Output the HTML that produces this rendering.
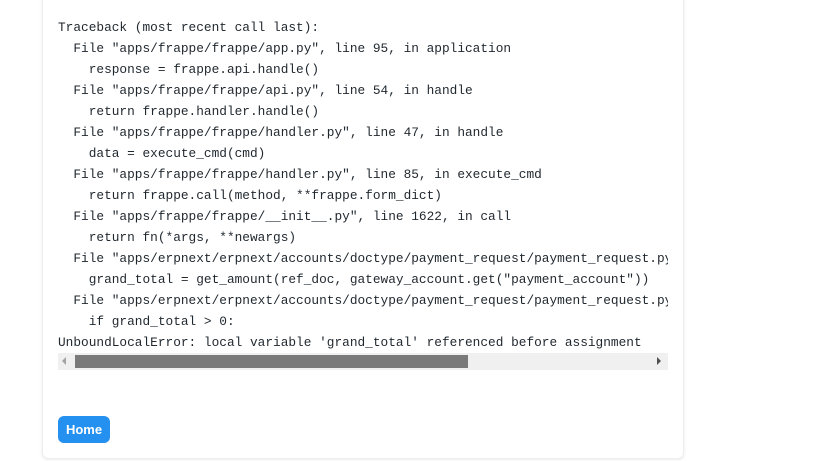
<!DOCTYPE html>
<html><head><style>
body{margin:0;width:839px;height:461px;background:#fff;position:relative;overflow:hidden;font-family:"Liberation Sans",sans-serif}
.card{position:absolute;left:42px;top:-10px;width:640px;height:467px;background:#fff;border:1px solid #ebeef0;border-radius:6px;box-shadow:0 1px 3px rgba(0,0,0,.08)}
pre{position:absolute;left:58px;top:17px;width:610px;margin:0;font-family:"Liberation Mono",monospace;font-size:12.8px;line-height:21px;color:#1f272e;overflow:hidden;white-space:pre}
.sb{position:absolute;left:58px;top:353px;width:610px;height:17px;background:#f0f0f0}
.thumb{position:absolute;left:75px;top:355px;width:393px;height:13px;background:#7a7a7a}
.al{position:absolute;left:62px;top:357px;width:0;height:0;border-top:4px solid transparent;border-bottom:4px solid transparent;border-right:4px solid #a3a3a3}
.ar{position:absolute;left:657px;top:357px;width:0;height:0;border-top:4px solid transparent;border-bottom:4px solid transparent;border-left:4px solid #505050}
.btn{position:absolute;left:58px;top:416px;width:52px;height:27px;background:#2490ef;border-radius:6px;color:#fff;font-weight:bold;font-size:13px;line-height:28px;text-align:center}
</style></head><body>
<div class="card"></div>
<pre>Traceback (most recent call last):
  File "apps/frappe/frappe/app.py", line 95, in application
    response = frappe.api.handle()
  File "apps/frappe/frappe/api.py", line 54, in handle
    return frappe.handler.handle()
  File "apps/frappe/frappe/handler.py", line 47, in handle
    data = execute_cmd(cmd)
  File "apps/frappe/frappe/handler.py", line 85, in execute_cmd
    return frappe.call(method, **frappe.form_dict)
  File "apps/frappe/frappe/__init__.py", line 1622, in call
    return fn(*args, **newargs)
  File "apps/erpnext/erpnext/accounts/doctype/payment_request/payment_request.py", line 1, in make_payment_request
    grand_total = get_amount(ref_doc, gateway_account.get("payment_account"))
  File "apps/erpnext/erpnext/accounts/doctype/payment_request/payment_request.py", line 1, in get_amount
    if grand_total &gt; 0:
UnboundLocalError: local variable 'grand_total' referenced before assignment</pre>
<div class="sb"></div><div class="thumb"></div><div class="al"></div><div class="ar"></div>
<div class="btn">Home</div>
</body></html>
